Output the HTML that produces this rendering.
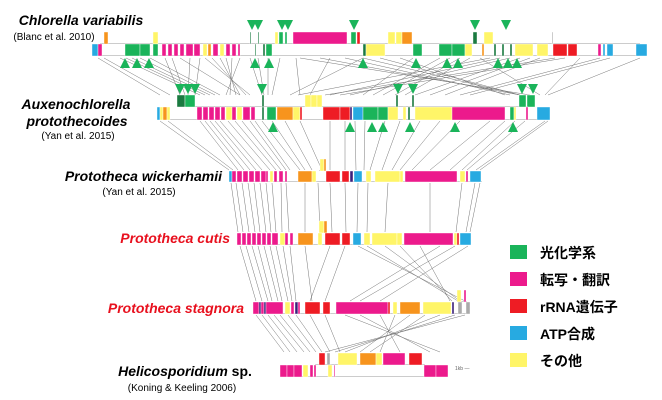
<!DOCTYPE html>
<html><head><meta charset="utf-8"><style>
body{margin:0;background:#fff;width:662px;height:400px;overflow:hidden}
svg{display:block}
.t{font-family:"Liberation Sans","Noto Sans CJK JP",sans-serif}
</style></head><body>
<svg id="fig" width="662" height="400" xmlns="http://www.w3.org/2000/svg">
<g id="links"></g>
<g id="tracks"></g>
<g id="tris"></g>
<g class="t">
<text x="81" y="25" font-size="14" font-weight="bold" font-style="italic" text-anchor="middle">Chlorella variabilis</text>
<text x="54" y="40" font-size="10" text-anchor="middle">(Blanc et al. 2010)</text>
<text x="76" y="109" font-size="14" font-weight="bold" font-style="italic" text-anchor="middle">Auxenochlorella</text>
<text x="77" y="126" font-size="14" font-weight="bold" font-style="italic" text-anchor="middle">protothecoides</text>
<text x="78" y="139" font-size="10" text-anchor="middle">(Yan et al. 2015)</text>
<text x="222" y="181" font-size="14" font-weight="bold" font-style="italic" text-anchor="end">Prototheca wickerhamii</text>
<text x="139" y="195" font-size="10" text-anchor="middle">(Yan et al. 2015)</text>
<text x="230" y="243" font-size="14" font-weight="bold" font-style="italic" fill="#e8101e" text-anchor="end">Prototheca cutis</text>
<text x="244" y="313" font-size="14" font-weight="bold" font-style="italic" fill="#e8101e" text-anchor="end">Prototheca stagnora</text>
<text x="185" y="376" font-size="14" font-weight="bold" text-anchor="middle"><tspan font-style="italic">Helicosporidium</tspan> sp.</text>
<text x="182" y="391" font-size="10" text-anchor="middle">(Koning &amp; Keeling 2006)</text>
<text x="455" y="370" font-size="5" fill="#666">1kb —</text>
</g>
<g class="t">
<g><rect x="510" y="245" width="17" height="14" fill="#1ab45a"/><text x="540" y="258" font-size="14" font-weight="bold">光化学系</text></g>
<g><rect x="510" y="272" width="17" height="14" fill="#ec1a8c"/><text x="540" y="285" font-size="14" font-weight="bold">転写・翻訳</text></g>
<g><rect x="510" y="299" width="17" height="14" fill="#ee1c24"/><text x="540" y="312" font-size="14" font-weight="bold">rRNA遺伝子</text></g>
<g><rect x="510" y="326" width="17" height="14" fill="#27aae1"/><text x="540" y="339" font-size="14" font-weight="bold">ATP合成</text></g>
<g><rect x="510" y="353" width="17" height="14" fill="#fff568"/><text x="540" y="366" font-size="14" font-weight="bold">その他</text></g>
</g>
</svg>
<script>
const C={g:"#1ab45a",p:"#ec1a8c",r:"#ee1c24",b:"#27aae1",y:"#fff568",o:"#f7941d",v:"#3b1f7a",k:"#aaaaaa",d:"#1a7a40"};
// track rows: [name, y, height, xStart, xEnd, segments "start-end-color"]
const rows=[
["chlorella-upper",32,12,100,640,"104-108-o 153-158-y 250-251-d 258-259-d 275-278-y 279-283-g 285-287-g 293-347-p 351-356-g 357-360-r 388-395-y 396-402-y 402-412-o 473-477-d 484-493-y 552-553-k"],
["chlorella-lower",44,12,92,647,"92-98-b 98-102-p 125-140-g 140-150-g 153-158-g 162-166-p 168-172-p 174-178-p 180-184-p 186-193-p 194-200-p 203-207-y 208-211-o 213-218-p 220-224-y 226-230-p 232-236-p 238-240-p 255-256-d 263-265-d 266-272-g 363-366-d 366-385-y 413-422-g 439-452-g 452-465-g 465-472-y 482-484-o 494-496-d 502-504-d 510-512-d 515-533-y 537-548-y 553-567-r 568-577-r 598-601-p 603-605-b 607-613-b 636-647-b"],
["auxeno-upper",95,12,177,535,"177-185-d 185-195-g 262-264-d 305-311-y 311-317-y 317-322-y 396-398-d 412-414-d 519-526-g 527-535-g"],
["auxeno-lower",107,13,157,550,"157-160-b 160-163-y 163-167-o 167-170-y 197-202-p 203-208-p 209-214-p 215-220-p 221-225-p 226-232-y 232-236-p 237-242-y 243-250-p 251-255-p 262-264-d 267-276-g 277-293-o 293-300-y 300-302-r 323-340-r 340-350-r 350-352-v 353-363-b 363-378-g 378-388-g 388-398-y 403-406-y 408-410-d 415-452-y 452-505-p 510-514-g 514-516-y 526-528-p 537-550-b"],
["wick-upper",159,12,319,326,"320-324-y 324-326-o"],
["wick",171,11,229,482,"229-232-b 232-236-p 237-242-p 243-248-p 249-254-p 255-260-p 261-266-p 266-268-p 270-273-y 274-277-p 279-283-p 285-287-p 298-312-o 312-316-y 326-340-r 342-349-r 350-353-v 354-362-b 366-371-y 375-400-y 400-403-y 405-457-p 460-465-y 466-468-p 470-481-b"],
["cutis-upper",221,12,319,327,"319-324-y 324-327-o"],
["cutis",233,12,237,471,"237-241-p 242-246-p 247-251-p 252-256-p 257-261-p 262-266-p 267-271-p 272-278-p 280-285-y 285-288-p 290-293-p 298-313-o 318-322-y 325-340-r 342-350-r 353-361-b 364-370-y 372-397-y 397-402-y 404-453-p 454-457-y 457-459-r 460-471-b"],
["stag-upper",290,12,457,467,"457-461-y 464-466-p"],
["stag",302,12,253,470,"253-259-p 259-261-v 261-264-p 264-266-v 266-283-p 285-290-y 291-294-p 295-298-v 298-300-p 305-320-r 323-330-r 336-388-p 388-390-r 393-397-y 400-420-o 423-451-y 452-454-v 458-462-k 466-470-k"],
["heli-upper",353,12,315,425,"319-325-r 327-330-k 338-357-y 360-376-o 376-382-y 383-405-p 409-422-r"],
["heli-lower",365,12,280,448,"280-287-p 287-294-p 294-302-p 303-308-y 310-313-p 314-316-p 328-332-y 334-335-p 424-436-p 436-448-p"]
];
// triangle markers: x positions (down = above track, up = below track)
const triDown1=[252,258,282,288,354,475,506];
const triUp1=[125,137,149,255,269,363,416,447,458,498,508,517];
const triDown2=[180,188,195,262,398,413,522,533];
const triUp2=[273,350,372,383,410,455,513];
// link pairs [xTop, xBottom] between consecutive genomes
const links1=[[98,160],[104,170],[120,200],[126,205],[132,210],[140,215],[150,220],[165,180],[172,185],[180,240],[190,188],[200,195],[205,250],[212,246],[220,240],[226,236],[232,230],[240,226],[250,262],[258,264],[268,268],[280,272],[296,300],[330,310],[363,290],[363,520],[380,520],[400,505],[413,363],[440,373],[450,383],[460,395],[470,405],[480,540],[490,298],[500,330],[510,350],[520,415],[530,430],[540,445],[555,325],[565,340],[580,545],[600,460],[610,470],[640,548],[300,530],[320,520],[345,510]];
const links2=[[160,229],[168,233],[200,238],[205,244],[210,250],[215,256],[220,262],[228,270],[235,276],[242,281],[250,286],[255,290],[262,300],[272,305],[285,312],[300,322],[330,330],[345,345],[355,356],[365,364],[385,370],[400,382],[420,392],[440,400],[460,412],[490,430],[505,450],[515,462],[525,467],[545,476],[548,480]];
const links3=[[231,238],[236,243],[242,249],[248,255],[254,260],[260,266],[266,271],[272,276],[281,282],[286,289],[305,305],[318,320],[330,332],[345,346],[358,357],[368,367],[388,385],[430,430],[462,456],[475,466],[480,470]];
const links4=[[240,256],[246,262],[252,268],[258,272],[264,278],[270,282],[276,288],[283,292],[290,296],[305,312],[330,310],[345,325],[358,465],[367,458],[385,460],[400,452],[420,450],[440,350],[455,360],[468,380]];
const links5=[[256,284],[262,290],[268,297],[274,304],[280,310],[288,316],[296,322],[310,330],[325,340],[345,440],[360,430],[380,400],[395,380],[410,360],[425,370],[440,345],[455,335],[465,325]];
const svgNS="http://www.w3.org/2000/svg";
const gL=document.getElementById('links'),gT=document.getElementById('tracks'),gR=document.getElementById('tris');
function drawLinks(arr,y1,y2,name){
 arr.forEach(function(p,i){
  const l=document.createElementNS(svgNS,'line');
  
  
  l.setAttribute('x1',p[0]);l.setAttribute('y1',y1);l.setAttribute('x2',p[1]);l.setAttribute('y2',y2);
  l.setAttribute('stroke','#777');l.setAttribute('stroke-width','0.5');
  gL.appendChild(l);
 });
}
drawLinks(links1,58,95,'chlorella-auxeno');
drawLinks(links2,121,170,'auxeno-wick');
drawLinks(links3,183,232,'wick-cutis');
drawLinks(links4,246,301,'cutis-stag');
drawLinks(links5,315,352,'stag-heli');
rows.forEach(function(r){
 const base=document.createElementNS(svgNS,'line');
 
 
 base.setAttribute('x1',r[3]);base.setAttribute('x2',r[4]);
 base.setAttribute('y1',r[1]+r[2]-0.5);base.setAttribute('y2',r[1]+r[2]-0.5);
 base.setAttribute('stroke','#ccc');base.setAttribute('stroke-width','1');
 gT.appendChild(base);
 r[5].split(' ').forEach(function(s){
  const a=s.split('-');
  const rc=document.createElementNS(svgNS,'rect');
  
  
  rc.setAttribute('x',a[0]);rc.setAttribute('y',r[1]);
  rc.setAttribute('width',Math.max(1,a[1]-a[0]));rc.setAttribute('height',r[2]);
  rc.setAttribute('fill',C[a[2]]);rc.setAttribute('stroke','#ffffff');rc.setAttribute('stroke-width','0.4');
  gT.appendChild(rc);
 });
});
function tri(x,y,down){
 const p=document.createElementNS(svgNS,'polygon');
 
 
 const pts=down?[[x-5,y],[x+5,y],[x,y+10]]:[[x-5,y+10],[x+5,y+10],[x,y]];
 p.setAttribute('points',pts.map(q=>q.join(',')).join(' '));
 p.setAttribute('fill','#1ab45a');
 gR.appendChild(p);
}
triDown1.forEach(x=>tri(x,20,true));
triUp1.forEach(x=>tri(x,58,false));
triDown2.forEach(x=>tri(x,84,true));
triUp2.forEach(x=>tri(x,122,false));
</script>
</body></html>
